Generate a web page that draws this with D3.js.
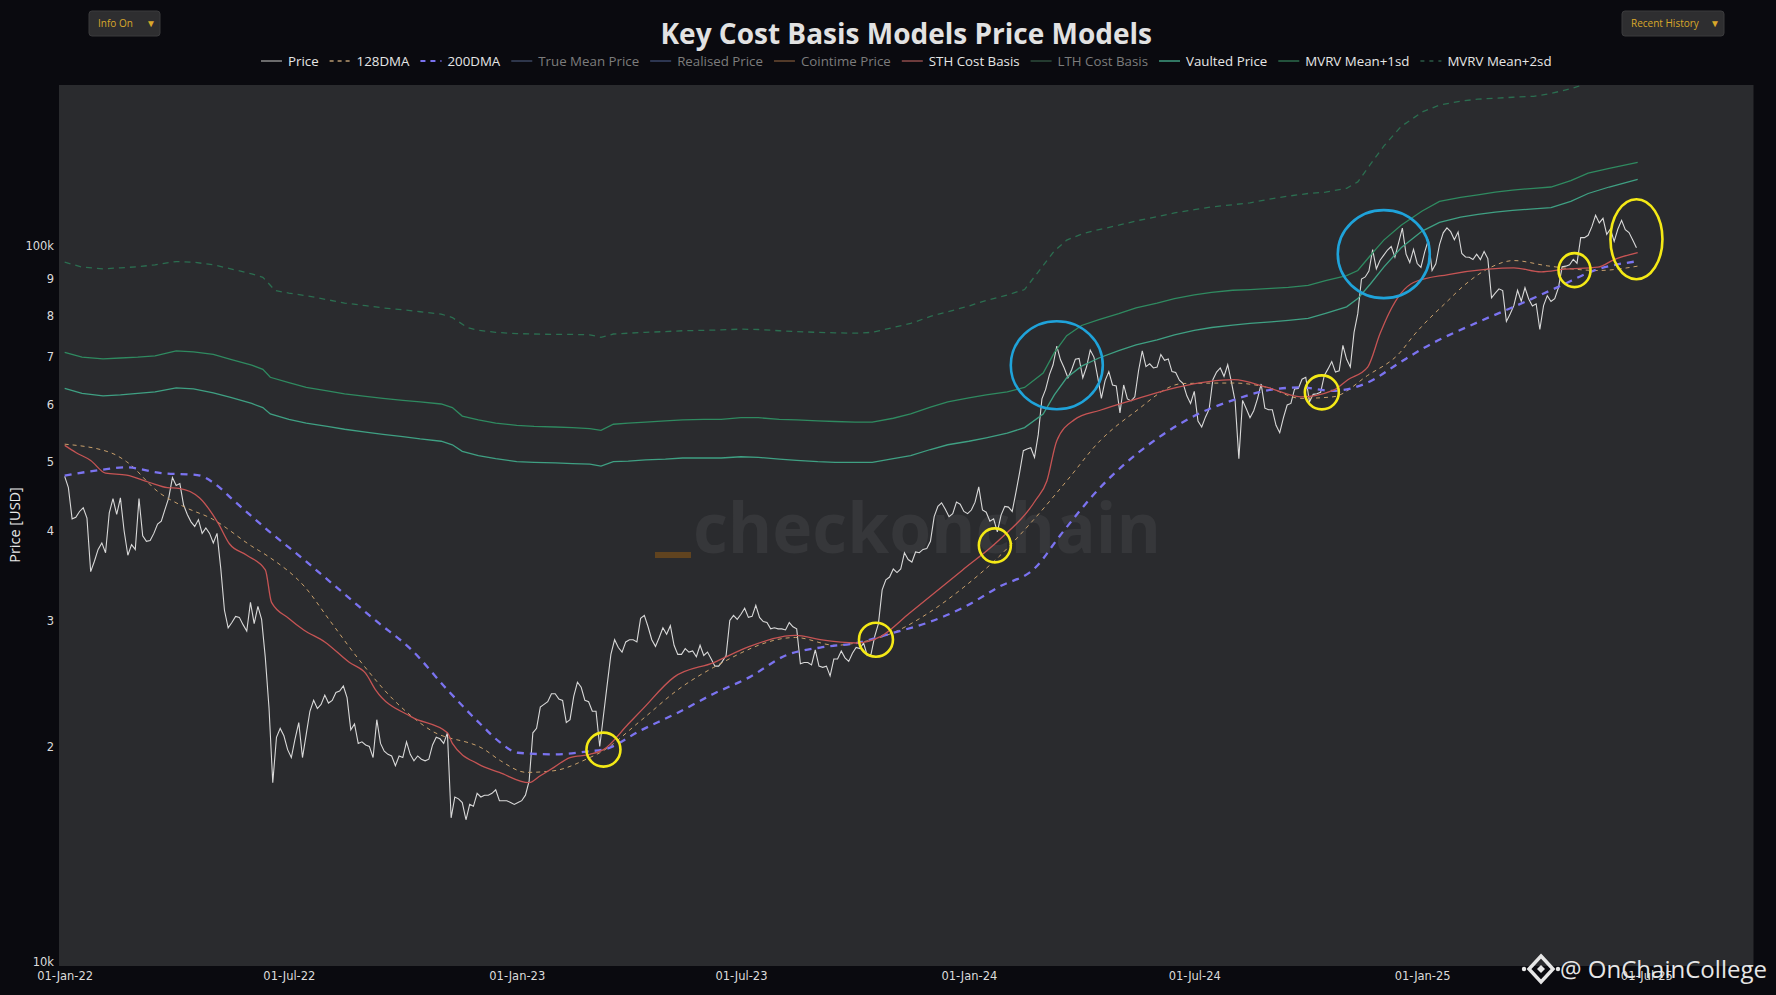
<!doctype html>
<html>
<head>
<meta charset="utf-8">
<title>Key Cost Basis Models Price Models</title>
<script src="https://cdn.jsdelivr.net/npm/d3@7"></script>
<style>
  body { margin: 0; background: #0a0a0f; }
  svg { display: block; }
  .tick text { font-family: "DejaVu Sans", Verdana, sans-serif; font-size: 11.5px; fill: #dcdcdc; }
  .legend text { font-family: "Open Sans", sans-serif; font-size: 13.3px; }
  .btn text { font-family: "Open Sans", sans-serif; font-size: 10px; fill: #d9a82a; }
</style>
</head>
<body>
<svg id="chart" width="1776" height="995"></svg>
<script>
// ---- data (prices in k USD) ----
// BTC price, one value every 3 days starting 01-Jan-22
const priceStart = "2022-01-01";
const priceStepDays = 3;
const price = [
  // 2022
  47.7, 46.0, 41.6, 41.8, 42.6, 43.1, 41.7, 35.1, 36.3, 37.7, 38.5,
  37.3, 42.4, 44.4, 42.2, 44.5, 40.0, 37.0, 38.3, 37.7,
  44.4, 39.4, 38.7, 38.8, 39.7, 40.9, 41.3, 42.9, 44.5, 47.5,
  46.3, 46.6, 43.5, 42.2, 41.2, 40.6, 41.5, 39.7, 40.4, 39.7,
  38.5, 39.7, 35.5, 31.0, 29.3, 29.8, 30.4, 30.3, 29.6, 29.0, 31.8,
  29.7, 31.4, 30.1, 26.6, 22.6, 17.8, 20.6, 21.2, 20.7, 19.8,
  19.3, 20.5, 21.6, 19.3, 20.8, 22.4, 23.2, 22.6, 22.9, 23.6,
  23.0, 23.2, 23.8, 23.9, 24.3, 23.4, 21.1, 21.5, 20.2, 20.3,
  20.1, 20.0, 19.3, 21.8, 20.2, 19.7, 19.5, 19.4, 18.8, 19.4,
  19.3, 20.3, 19.5, 19.1, 19.4, 19.2, 19.1, 19.2, 20.1, 20.6, 20.5,
  20.2, 20.9, 15.9, 17.0, 16.9, 16.7, 15.8, 16.6, 16.5, 17.2,
  17.0, 17.1, 17.1, 17.2, 17.4, 16.8, 16.8, 16.8, 16.7, 16.6,
  // 2023
  16.7, 16.8, 17.1, 17.9, 20.9, 21.2, 22.7, 22.9, 23.1, 23.7,
  23.7, 23.3, 23.2, 21.6, 21.8, 23.5, 24.6, 24.2, 23.2, 23.1,
  22.4, 22.4, 20.0, 22.1, 24.4, 26.9, 28.2, 27.5, 27.1, 28.0,
  28.2, 28.2, 28.0, 30.2, 30.5, 29.4, 28.2, 27.6, 28.4, 29.3,
  28.7, 29.5, 27.7, 26.9, 26.9, 27.4, 27.1, 27.2, 26.7, 27.7,
  26.8, 27.1, 26.5, 25.9, 25.9, 26.3, 26.8, 30.0, 30.5, 30.1,
  30.6, 31.2, 30.3, 30.4, 31.5, 30.3, 29.9, 29.8, 29.2, 29.3, 29.2,
  29.2, 29.1, 29.8, 29.4, 29.2, 26.1, 26.2, 26.2, 26.0, 27.3,
  25.9, 25.8, 25.9, 25.1, 26.5, 26.5, 27.2, 26.6, 26.3, 27.0,
  27.5, 27.4, 27.9, 26.8, 26.9, 28.5, 29.7, 33.1, 34.2, 34.5,
  35.4, 35.0, 35.4, 37.3, 36.5, 36.2, 37.4, 37.3, 37.7, 37.8,
  38.7, 41.9, 43.3, 43.8, 42.9, 41.9, 42.3, 43.9, 43.6, 42.6, 42.3,
  // 2024
  42.8, 43.9, 46.1, 42.8, 42.5, 41.3, 41.6, 39.9, 42.1, 43.3,
  43.2, 42.6, 45.3, 48.3, 51.8, 52.1, 52.3, 50.7, 54.5, 61.2,
  63.1, 66.1, 68.3, 72.5, 69.4, 67.6, 65.5, 67.2, 69.5, 69.7,
  65.5, 67.8, 71.6, 70.0, 65.7, 61.3, 64.9, 66.8, 64.0, 63.8,
  58.5, 64.0, 61.2, 60.8, 61.6, 67.0, 71.4, 67.9, 68.5, 67.6,
  67.8, 70.6, 69.3, 69.6, 66.8, 66.6, 65.0, 64.3, 61.8, 60.3,
  62.7, 57.0, 55.9, 57.7, 59.2, 65.1, 66.7, 67.6, 65.8, 68.3, 64.6,
  60.7, 50.5, 60.9, 59.3, 57.6, 58.9, 61.2, 64.2, 59.4, 59.1,
  59.1, 56.2, 54.9, 57.6, 60.0, 60.3, 63.2, 63.3, 65.2, 65.6,
  60.6, 62.1, 62.2, 62.5, 66.0, 67.4, 69.0, 66.7, 67.0, 72.7,
  69.5, 67.8, 75.8, 80.5, 90.0, 90.6, 92.3, 98.9, 93.0, 95.6,
  97.2, 98.8, 99.9, 96.6, 101.2, 106.0, 97.5, 94.9, 99.0, 94.6, 93.4,
  // 2025
  98.1, 102.1, 92.5, 94.5, 100.5, 104.4, 106.1, 104.8, 102.1, 104.7,
  97.7, 96.6, 96.5, 95.8, 97.5, 95.8, 98.3, 96.1, 84.7,
  86.0, 87.2, 86.7, 78.5, 80.4, 82.6, 86.8, 83.8, 87.5, 84.4, 82.5,
  83.1, 76.5, 82.6, 85.3, 83.7, 84.5, 87.5, 93.6, 93.8, 94.2,
  95.9, 94.7, 102.8, 102.8, 103.6, 106.5, 110.5, 107.8, 109.4, 103.9,
  105.7, 101.6, 105.7, 108.7, 105.5, 104.5, 102.0, 99.5
];

const dma128 = [
  ["2022-01-01",52.9],["2022-02-08",51.4],["2022-02-20",50.0],["2022-03-18",45.3],["2022-04-08",43.2],
  ["2022-04-30",41.6],["2022-06-01",38.1],["2022-06-15",36.8],["2022-07-14",33.4],["2022-08-03",30.0],
  ["2022-08-27",26.4],["2022-09-24",23.2],["2022-10-23",21.1],["2022-12-06",19.8],["2022-12-19",19.1],
  ["2023-01-09",18.4],["2023-01-31",18.5],["2023-03-01",19.3],["2023-03-09",19.6],["2023-04-12",21.8],
  ["2023-05-11",24.0],["2023-06-09",25.8],["2023-08-14",28.4],["2023-09-15",27.7],["2023-10-02",27.9],
  ["2023-10-31",28.8],["2023-11-29",30.7],["2023-12-28",33.4],["2024-01-25",36.8],["2024-02-24",41.8],
  ["2024-03-20",47.0],["2024-04-16",53.5],["2024-05-13",58.5],["2024-06-22",64.3],["2024-08-02",64.4],
  ["2024-08-29",63.5],["2024-09-25",61.3],["2024-10-21",61.6],["2024-11-18",66.0],["2024-12-14",71.0],
  ["2024-12-25",75.0],["2025-01-22",84.0],["2025-02-04",88.2],["2025-02-23",93.0],["2025-03-16",95.5],
  ["2025-04-12",93.9],["2025-05-23",92.5],["2025-06-24",93.8]
];

const dma200 = [
  ["2022-01-01",47.8],["2022-01-30",48.7],["2022-02-19",49.1],["2022-03-20",48.2],["2022-04-18",47.9],
  ["2022-05-02",46.6],["2022-05-17",44.2],["2022-06-14",40.1],["2022-07-13",36.5],["2022-08-11",33.1],
  ["2022-09-09",30.0],["2022-10-08",27.3],["2022-11-06",24.0],["2022-12-05",21.3],["2022-12-18",20.3],
  ["2023-01-02",19.6],["2023-01-31",19.5],["2023-03-01",19.7],["2023-03-12",19.8],["2023-04-12",21.1],
  ["2023-05-11",22.3],["2023-06-09",23.7],["2023-07-08",25.0],["2023-08-06",26.8],["2023-09-03",27.5],
  ["2023-10-02",27.9],["2023-10-31",28.8],["2023-11-29",29.8],["2023-12-28",31.3],["2024-01-25",33.4],
  ["2024-02-24",35.6],["2024-03-15",39.5],["2024-04-16",46.0],["2024-05-27",53.1],["2024-07-06",58.5],
  ["2024-08-02",61.0],["2024-08-29",62.9],["2024-09-25",63.5],["2024-10-21",62.8],["2024-11-18",64.5],
  ["2024-12-14",68.8],["2025-01-03",72.2],["2025-02-17",78.6],["2025-03-16",82.3],["2025-04-20",87.6],
  ["2025-05-23",92.9],["2025-06-24",95.3]
];

const sthCostBasis = [
  ["2022-01-01",52.7],["2022-01-10",51.5],["2022-01-22",50.2],["2022-02-03",48.2],["2022-02-20",47.9],
  ["2022-03-10",46.8],["2022-03-25",46.0],["2022-04-03",45.9],["2022-04-20",44.5],["2022-05-05",41.0],
  ["2022-05-14",38.4],["2022-05-28",37.0],["2022-06-12",35.3],["2022-06-17",31.8],["2022-07-01",30.2],
  ["2022-07-13",29.1],["2022-07-30",28.0],["2022-08-19",26.2],["2022-09-01",25.3],["2022-09-09",24.0],
  ["2022-10-08",22.0],["2022-11-06",20.9],["2022-11-10",20.2],["2022-12-01",18.9],["2022-12-18",18.4],
  ["2023-01-11",17.8],["2023-01-20",18.2],["2023-01-31",18.7],["2023-02-13",19.3],["2023-03-01",19.5],
  ["2023-03-12",19.8],["2023-04-01",21.5],["2023-04-12",22.5],["2023-05-08",25.0],["2023-06-09",26.2],
  ["2023-07-08",27.6],["2023-08-14",28.6],["2023-09-03",28.2],["2023-10-02",27.9],["2023-10-22",28.5],
  ["2023-11-14",30.7],["2023-12-27",35.3],["2024-01-25",38.8],["2024-02-24",44.2],["2024-03-04",47.0],
  ["2024-03-12",53.5],["2024-03-26",57.2],["2024-04-16",59.0],["2024-05-13",61.0],["2024-06-17",63.5],
  ["2024-08-02",65.1],["2024-08-29",63.5],["2024-09-25",61.6],["2024-10-21",62.9],["2024-11-02",65.1],
  ["2024-11-18",67.8],["2024-11-28",75.5],["2024-12-05",80.5],["2024-12-15",86.0],["2024-12-25",89.0],
  ["2025-01-22",91.3],["2025-02-23",92.9],["2025-03-16",93.3],["2025-04-07",92.1],["2025-04-26",92.9],
  ["2025-05-23",93.5],["2025-06-05",95.8],["2025-06-24",98.0]
];

const vaultedPrice = [
  ["2022-01-01",63.3],["2022-01-15",62.3],["2022-02-01",61.8],["2022-02-15",62.0],["2022-03-01",62.3],
  ["2022-03-15",62.6],["2022-04-01",63.4],["2022-04-15",63.2],["2022-05-01",62.4],["2022-05-15",61.5],
  ["2022-06-01",60.3],["2022-06-10",59.5],["2022-06-16",58.3],["2022-07-01",57.3],["2022-07-15",56.6],
  ["2022-08-01",56.0],["2022-08-15",55.5],["2022-09-01",55.0],["2022-09-15",54.6],["2022-10-01",54.2],
  ["2022-10-15",53.8],["2022-11-01",53.4],["2022-11-10",52.8],["2022-11-18",51.7],["2022-12-01",51.0],
  ["2022-12-15",50.5],["2023-01-01",50.0],["2023-01-15",49.9],["2023-02-01",49.8],["2023-02-15",49.7],
  ["2023-03-01",49.6],["2023-03-10",49.3],["2023-03-20",50.0],["2023-04-01",50.1],["2023-04-15",50.3],
  ["2023-05-01",50.4],["2023-05-15",50.6],["2023-06-01",50.6],["2023-06-15",50.6],["2023-07-01",50.8],
  ["2023-07-15",50.7],["2023-08-01",50.4],["2023-08-15",50.2],["2023-09-01",50.0],["2023-09-15",49.9],
  ["2023-10-01",49.9],["2023-10-15",49.9],["2023-11-01",50.5],["2023-11-15",51.0],["2023-12-01",52.0],
  ["2023-12-15",52.8],["2024-01-01",53.4],["2024-01-15",54.0],["2024-02-01",54.8],["2024-02-15",55.8],
  ["2024-03-01",58.3],["2024-03-10",62.0],["2024-03-20",65.5],["2024-04-01",68.0],["2024-04-15",69.8],
  ["2024-05-01",71.5],["2024-05-15",72.8],["2024-06-01",74.0],["2024-06-15",75.2],["2024-07-01",76.3],
  ["2024-07-15",77.0],["2024-08-01",77.6],["2024-08-15",78.0],["2024-09-01",78.4],["2024-09-15",78.8],
  ["2024-10-01",79.3],["2024-10-15",80.6],["2024-11-01",82.3],["2024-11-10",84.5],["2024-11-20",88.5],
  ["2024-12-01",93.5],["2024-12-15",99.5],["2025-01-01",105.0],["2025-01-15",108.0],["2025-02-01",109.8],
  ["2025-02-15",110.8],["2025-03-01",111.6],["2025-03-15",112.2],["2025-04-01",112.8],["2025-04-15",113.2],
  ["2025-05-01",115.5],["2025-05-15",118.5],["2025-06-01",121.0],["2025-06-24",124.0]
];

const mvrvPlus1sd = [
  ["2022-01-01",71.1],["2022-01-15",70.0],["2022-02-01",69.6],["2022-02-15",69.8],["2022-03-01",70.0],
  ["2022-03-15",70.3],["2022-04-01",71.4],["2022-04-15",71.2],["2022-05-01",70.6],["2022-05-15",69.5],
  ["2022-06-01",68.2],["2022-06-10",67.3],["2022-06-16",65.6],["2022-07-01",64.5],["2022-07-15",63.5],
  ["2022-08-01",62.8],["2022-08-15",62.2],["2022-09-01",61.7],["2022-09-15",61.3],["2022-10-01",60.9],
  ["2022-10-15",60.6],["2022-11-01",60.2],["2022-11-10",59.5],["2022-11-18",57.9],["2022-12-01",57.2],
  ["2022-12-15",56.6],["2023-01-01",56.2],["2023-01-15",56.0],["2023-02-01",55.9],["2023-02-15",55.8],
  ["2023-03-01",55.6],["2023-03-10",55.3],["2023-03-20",56.4],["2023-04-01",56.6],["2023-04-15",56.8],
  ["2023-05-01",57.0],["2023-05-15",57.2],["2023-06-01",57.3],["2023-06-15",57.3],["2023-07-01",57.6],
  ["2023-07-15",57.6],["2023-08-01",57.3],["2023-08-15",57.2],["2023-09-01",57.0],["2023-09-15",56.9],
  ["2023-10-01",56.8],["2023-10-15",56.8],["2023-11-01",57.5],["2023-11-15",58.3],["2023-12-01",59.6],
  ["2023-12-15",60.6],["2024-01-01",61.4],["2024-01-15",62.0],["2024-02-01",62.6],["2024-02-15",63.5],
  ["2024-03-01",66.5],["2024-03-10",71.0],["2024-03-20",75.0],["2024-04-01",77.5],["2024-04-15",79.0],
  ["2024-05-01",80.5],["2024-05-15",82.0],["2024-06-01",83.3],["2024-06-15",84.5],["2024-07-01",85.5],
  ["2024-07-15",86.2],["2024-08-01",86.8],["2024-08-15",87.0],["2024-09-01",87.3],["2024-09-15",87.6],
  ["2024-10-01",88.2],["2024-10-15",89.5],["2024-11-01",91.0],["2024-11-10",92.5],["2024-11-20",97.0],
  ["2024-12-01",102.0],["2024-12-15",107.0],["2025-01-01",112.0],["2025-01-15",115.5],["2025-02-01",117.0],
  ["2025-02-15",118.0],["2025-03-01",119.0],["2025-03-15",119.8],["2025-04-01",120.5],["2025-04-15",121.0],
  ["2025-05-01",123.5],["2025-05-15",126.5],["2025-06-01",128.5],["2025-06-24",131.0]
];

const mvrvPlus2sd = [
  ["2022-01-01",95.0],["2022-01-15",93.5],["2022-02-01",93.0],["2022-02-15",93.3],["2022-03-01",93.6],
  ["2022-03-15",94.2],["2022-04-01",95.2],["2022-04-15",95.0],["2022-05-01",94.2],["2022-05-15",93.0],
  ["2022-06-01",91.5],["2022-06-10",90.5],["2022-06-20",86.7],["2022-07-01",86.0],["2022-07-15",85.3],
  ["2022-08-01",84.2],["2022-08-15",83.3],["2022-09-01",82.6],["2022-09-15",82.0],["2022-10-01",81.5],
  ["2022-10-15",81.0],["2022-11-01",80.4],["2022-11-10",79.5],["2022-11-22",77.0],["2022-12-01",76.3],
  ["2022-12-15",75.8],["2023-01-01",75.5],["2023-01-15",75.4],["2023-02-01",75.3],["2023-02-15",75.3],
  ["2023-03-01",75.2],["2023-03-10",74.6],["2023-03-20",75.4],["2023-04-01",75.6],["2023-04-15",75.8],
  ["2023-05-01",76.0],["2023-05-15",76.2],["2023-06-01",76.3],["2023-06-15",76.4],["2023-07-01",76.6],
  ["2023-07-15",76.5],["2023-08-01",76.2],["2023-08-15",76.0],["2023-09-01",75.8],["2023-09-15",75.7],
  ["2023-10-01",75.6],["2023-10-15",75.8],["2023-11-01",77.0],["2023-11-15",78.0],["2023-12-01",79.8],
  ["2023-12-15",81.0],["2024-01-01",82.5],["2024-01-15",84.0],["2024-02-01",85.5],["2024-02-15",87.0],
  ["2024-03-01",94.0],["2024-03-10",98.5],["2024-03-20",102.0],["2024-04-01",104.0],["2024-04-15",105.5],
  ["2024-05-01",107.0],["2024-05-15",108.5],["2024-06-01",110.0],["2024-06-15",111.3],["2024-07-01",112.5],
  ["2024-07-15",113.5],["2024-08-01",114.3],["2024-08-15",115.0],["2024-09-01",116.5],["2024-09-15",117.5],
  ["2024-10-01",118.5],["2024-10-15",119.0],["2024-11-01",120.5],["2024-11-10",123.0],["2024-11-20",130.0],
  ["2024-12-01",138.0],["2024-12-15",147.0],["2025-01-01",154.0],["2025-01-15",157.5],["2025-02-01",159.5],
  ["2025-02-15",160.5],["2025-03-01",161.0],["2025-03-15",161.5],["2025-04-01",162.0],["2025-04-15",163.5],
  ["2025-05-01",166.0],["2025-05-15",169.0],["2025-06-01",172.0],["2025-06-24",175.0]
];

// hand drawn highlight marks: [date, price k]
const yellowMarks = [["2023-03-12",19.8],["2023-10-18",28.2],["2024-01-22",38.2],["2024-10-12",62.5],["2025-05-04",92.6],["2025-06-23",102.3]];
const blueMarks = [["2024-03-12",68.2],["2024-12-01",97.5]];

const yTicks = [10, 20, 30, 40, 50, 60, 70, 80, 90, 100];
const yTickLabels = ["10k", "2", "3", "4", "5", "6", "7", "8", "9", "100k"];
const xTicks = ["2022-01-01","2022-07-01","2023-01-01","2023-07-01","2024-01-01","2024-07-01","2025-01-01","2025-07-01"];

const legendNames = ["Price","128DMA","200DMA","True Mean Price","Realised Price","Cointime Price",
  "STH Cost Basis","LTH Cost Basis","Vaulted Price","MVRV Mean+1sd","MVRV Mean+2sd"];

// ---- layout ----
const W = 1776, H = 995;
const plot = {left: 59, right: 1753.5, top: 85, bottom: 966};
const parse = d3.utcParse("%Y-%m-%d");

const x = d3.scaleUtc()
  .domain([new Date(Date.UTC(2021, 11, 27, 10)), new Date(Date.UTC(2025, 8, 25, 12))])
  .range([plot.left, plot.right]);
const y = d3.scaleLog()
  .domain([9.87, 168])
  .range([plot.bottom, plot.top]);

const svg = d3.select("#chart");
svg.append("rect").attr("width", W).attr("height", H).attr("fill", "#0a0a0f");
svg.append("rect")
  .attr("x", plot.left).attr("y", plot.top)
  .attr("width", plot.right - plot.left).attr("height", plot.bottom - plot.top)
  .attr("fill", "#2a2b2e");

svg.append("clipPath").attr("id", "clip")
  .append("rect")
  .attr("x", plot.left).attr("y", plot.top)
  .attr("width", plot.right - plot.left).attr("height", plot.bottom - plot.top);

// watermark in the middle of the plot
const wm = svg.append("g");
wm.append("rect")
  .attr("x", 655).attr("y", 552).attr("width", 36).attr("height", 6)
  .attr("fill", "#6e4a1c").attr("opacity", 0.8);
wm.append("text")
  .attr("x", 693).attr("y", 553)
  .attr("font-family", "Open Sans, sans-serif").attr("font-weight", 700)
  .attr("font-size", 70).attr("textLength", 468).attr("lengthAdjust", "spacingAndGlyphs")
  .attr("fill", "#36373a")
  .text("checkonchain");

// ---- axes ----
const yAxis = svg.append("g")
  .attr("transform", `translate(${plot.left},0)`)
  .call(d3.axisLeft(y).tickValues(yTicks).tickFormat((d, i) => yTickLabels[i]).tickSize(0).tickPadding(5));
yAxis.select(".domain").remove();

const xAxis = svg.append("g")
  .attr("transform", `translate(0,${plot.bottom})`)
  .call(d3.axisBottom(x).tickValues(xTicks.map(parse)).tickFormat(d3.utcFormat("%d-%b-%y")).tickSize(0).tickPadding(6));
xAxis.select(".domain").remove();

svg.append("text")
  .attr("transform", "translate(20,525) rotate(-90)")
  .attr("text-anchor", "middle")
  .attr("font-family", "Open Sans, sans-serif").attr("font-size", 14.5)
  .attr("fill", "#e8e8e8")
  .text("Price [USD]");

// ---- series ----
const g = svg.append("g").attr("clip-path", "url(#clip)");
const start = parse(priceStart);
const priceSeries = price.map((v, i) => ({date: d3.utcDay.offset(start, i * priceStepDays), v}));
const toSeries = arr => arr.map(d => ({date: parse(d[0]), v: d[1]}));

const straight = d3.line().x(d => x(d.date)).y(d => y(d.v));
const smooth = d3.line().curve(d3.curveMonotoneX).x(d => x(d.date)).y(d => y(d.v));

g.append("path").datum(priceSeries).attr("d", straight)
  .attr("fill", "none").attr("stroke", "#d9d9d9").attr("stroke-width", 1.1);
g.append("path").datum(toSeries(dma128)).attr("d", smooth)
  .attr("fill", "none").attr("stroke", "#c9a06b").attr("stroke-width", 1).attr("stroke-dasharray", "4,4");
g.append("path").datum(toSeries(dma200)).attr("d", smooth)
  .attr("fill", "none").attr("stroke", "#7b73f0").attr("stroke-width", 2.3).attr("stroke-dasharray", "7,6");
g.append("path").datum(toSeries(sthCostBasis)).attr("d", smooth)
  .attr("fill", "none").attr("stroke", "#c65454").attr("stroke-width", 1.3);
g.append("path").datum(toSeries(vaultedPrice)).attr("d", straight)
  .attr("fill", "none").attr("stroke", "#3fa083").attr("stroke-width", 1.3);
g.append("path").datum(toSeries(mvrvPlus1sd)).attr("d", straight)
  .attr("fill", "none").attr("stroke", "#2f8a60").attr("stroke-width", 1.3);
g.append("path").datum(toSeries(mvrvPlus2sd)).attr("d", straight)
  .attr("fill", "none").attr("stroke", "#2b6e50").attr("stroke-width", 1.3).attr("stroke-dasharray", "6,5");

// ---- highlight rings ----
const yellowSize = [[17,17],[17,17],[16,17],[17,17],[16,17],[26,40]];
svg.append("g").selectAll("ellipse").data(yellowMarks).join("ellipse")
  .attr("cx", d => x(parse(d[0]))).attr("cy", d => y(d[1]))
  .attr("rx", (d, i) => yellowSize[i][0]).attr("ry", (d, i) => yellowSize[i][1])
  .attr("fill", "none").attr("stroke", "#f4e916").attr("stroke-width", 2.6);
svg.append("g").selectAll("ellipse").data(blueMarks).join("ellipse")
  .attr("cx", d => x(parse(d[0]))).attr("cy", d => y(d[1]))
  .attr("rx", 46).attr("ry", 44)
  .attr("fill", "none").attr("stroke", "#1fa3da").attr("stroke-width", 2.6);

// ---- title, legend ----
svg.append("text")
  .attr("x", (plot.left + plot.right) / 2).attr("y", 44)
  .attr("text-anchor", "middle")
  .attr("font-family", "Open Sans, sans-serif").attr("font-weight", 700).attr("font-size", 28)
  .attr("fill", "#e2e2e2")
  .text("Key Cost Basis Models Price Models");

const legendStyle = [
  {c: "#8d8d8d"}, {c: "#b99a72", dash: "4,4"}, {c: "#7b73f0", dash: "5,5", w: 2},
  {c: "#3b4660", off: true}, {c: "#3a4668", off: true}, {c: "#6b4b33", off: true},
  {c: "#8f4d4d"}, {c: "#2e4d3d", off: true}, {c: "#3f9c80"}, {c: "#2d6b4d"}, {c: "#2b5a45", dash: "4,5"}
];
const legend = svg.append("g").attr("class", "legend");
const items = legend.selectAll("g").data(legendNames).join("g");
items.append("line")
  .attr("x1", 0).attr("x2", 21).attr("y1", 0).attr("y2", 0)
  .attr("stroke", (d, i) => legendStyle[i].c)
  .attr("stroke-width", (d, i) => legendStyle[i].w || 1.5)
  .attr("stroke-dasharray", (d, i) => legendStyle[i].dash || null);
items.append("text")
  .attr("x", 27).attr("dy", "0.35em")
  .attr("fill", (d, i) => legendStyle[i].off ? "#7c7c7c" : "#e6e6e6")
  .text(d => d);
let cursor = 0;
const offsets = [];
items.each(function() {
  offsets.push(cursor);
  cursor += 27 + this.querySelector("text").getComputedTextLength() + 11;
});
const legendWidth = cursor - 11;
const legendX = (plot.left + plot.right) / 2 - legendWidth / 2;
items.attr("transform", (d, i) => `translate(${legendX + offsets[i]},61)`);

// ---- dropdown buttons ----
function button(x0, w, label) {
  const b = svg.append("g").attr("class", "btn");
  b.append("rect").attr("x", x0).attr("y", 11).attr("width", w).attr("height", 25).attr("rx", 3)
    .attr("fill", "#2e2e30").attr("stroke", "#3b3b3d");
  b.append("text").attr("x", x0 + 9).attr("y", 27).text(label);
  b.append("text").attr("x", x0 + w - 14).attr("y", 27).attr("font-size", 9).text("\u25BC");
}
button(89, 71, "Info On");
button(1622, 102, "Recent History");

// ---- corner tag ----
const tag = svg.append("g").attr("fill", "#e6e6e6");
const lx = 1541, ly = 969;
tag.append("path")
  .attr("d", `M${lx},${ly - 13} L${lx + 12},${ly} L${lx},${ly + 13} L${lx - 12},${ly} Z`)
  .attr("fill", "none").attr("stroke", "#e6e6e6").attr("stroke-width", 3.5);
tag.append("path")
  .attr("d", `M${lx},${ly - 4} L${lx + 4},${ly} L${lx},${ly + 4} L${lx - 4},${ly} Z`);
tag.append("circle").attr("cx", lx - 17).attr("cy", ly).attr("r", 2.2);
tag.append("circle").attr("cx", lx + 17).attr("cy", ly).attr("r", 2.2);
tag.append("text")
  .attr("x", 1560).attr("y", 978)
  .attr("font-family", "Open Sans, sans-serif").attr("font-size", 24)
  .attr("textLength", 207).attr("lengthAdjust", "spacingAndGlyphs")
  .text("@ OnChainCollege");
</script>
</body>
</html>
